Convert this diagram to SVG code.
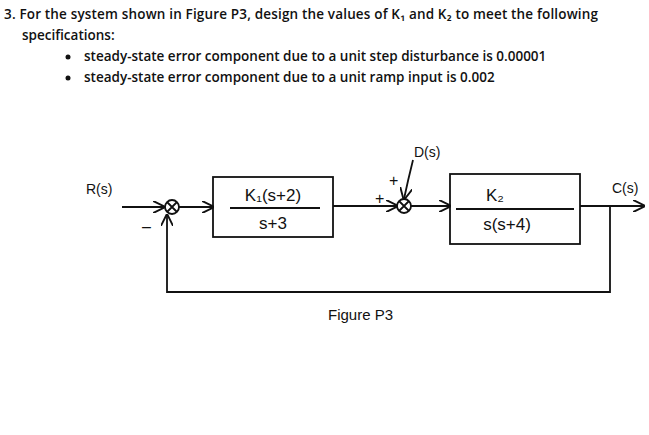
<svg xmlns="http://www.w3.org/2000/svg" width="649" height="435" viewBox="0 0 649 435">
<defs>
<style>
.h{font-family:"Open Sans","Liberation Sans",sans-serif;font-size:13.5px;font-weight:600;fill:#111}
.l{stroke:#111;stroke-width:1.8;fill:none}
.t{font-family:"Liberation Sans",sans-serif;fill:#111}
</style>
<marker id="a" viewBox="0 0 10 10" refX="9" refY="5" markerWidth="7" markerHeight="7" orient="auto"><path d="M0,0 L10,5 L0,10" fill="none" stroke="#111" stroke-width="1.5"/></marker>
</defs>
<rect width="649" height="435" fill="#fff"/>
<text class="h" x="4" y="19" textLength="594">3.  For the system shown in Figure P3, design the values of K₁ and K₂ to meet the following</text>
<text class="h" x="22" y="40">specifications:</text>
<circle cx="68" cy="57" r="2.5" fill="#111"/><circle cx="68" cy="78" r="2.5" fill="#111"/>
<text class="h" x="84" y="61">steady-state error component due to a unit step disturbance is 0.00001</text>
<text class="h" x="84" y="82">steady-state error component due to a unit ramp input is 0.002</text>
<g id="connectors">
<path class="l" d="M122 207 H164" marker-end="url(#a)"/>
<path class="l" d="M179 207 H213" marker-end="url(#a)"/>
<path class="l" d="M333 206 H397" marker-end="url(#a)"/>
<path class="l" d="M413 160 Q408 180 404 199" marker-end="url(#a)"/>
<path class="l" d="M411 206 H450" marker-end="url(#a)"/>
<path class="l" d="M580 206 H644" marker-end="url(#a)"/>
<path class="l" d="M610 206 V292 H167 V215" marker-end="url(#a)"/>
</g>
<g id="sum1"><circle class="l" cx="172" cy="207" r="7"/><path class="l" d="M167 202 L177 212 M177 202 L167 212"/>
<text class="t" x="142" y="232" font-size="16">–</text></g>
<g id="sum2"><circle class="l" cx="404" cy="206" r="7"/><path class="l" d="M399 201 L409 211 M409 201 L399 211"/>
<text class="t" x="375" y="204" font-size="16">+</text><text class="t" x="389" y="186" font-size="16">+</text></g>
<g id="G1"><rect class="l" x="213" y="177" width="120" height="60"/>
<text class="t" x="273" y="201" font-size="17" text-anchor="middle">K₁(s+2)</text>
<path class="l" d="M230 208 H320"/>
<text class="t" x="273" y="229" font-size="17" text-anchor="middle">s+3</text></g>
<g id="G2"><rect class="l" x="450" y="174" width="130" height="70"/>
<text class="t" x="495" y="201" font-size="17" text-anchor="middle">K₂</text>
<path class="l" d="M456 209 H574"/>
<text class="t" x="507" y="230" font-size="17" text-anchor="middle">s(s+4)</text></g>
<text class="t" x="86" y="194" font-size="14">R(s)</text>
<text class="t" x="414" y="157" font-size="14">D(s)</text>
<text class="t" x="612" y="193" font-size="14">C(s)</text>
<text class="t" x="328" y="320" font-size="15">Figure P3</text>
</svg>
